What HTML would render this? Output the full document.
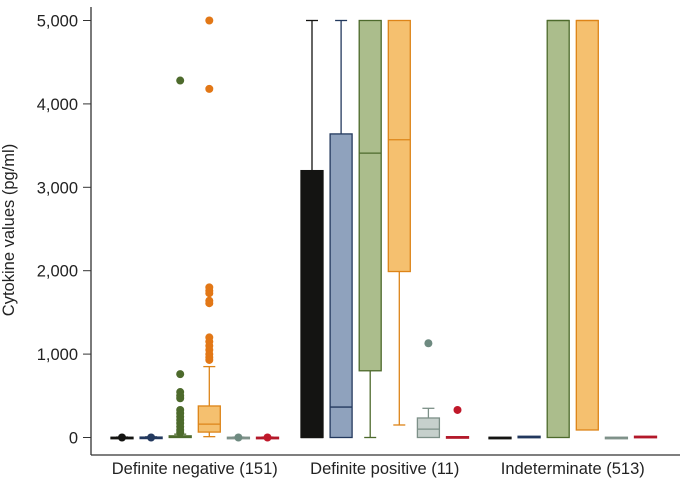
<!DOCTYPE html>
<html><head><meta charset="utf-8"><style>
body{margin:0;background:#fff;}
svg{display:block;font-family:"Liberation Sans",sans-serif;}
</style></head><body>
<svg id="chart" width="685" height="483" viewBox="0 0 685 483">
<g id="axes"></g>
<g id="marks"></g>
<text x="0" y="0" transform="translate(14,230) rotate(-90)" text-anchor="middle" font-size="16.5" fill="#222">Cytokine values (pg/ml)</text>
</svg>
<script>
const groups = ["Definite negative (151)", "Definite positive (11)", "Indeterminate (513)"];
const yTicks = [0, 1000, 2000, 3000, 4000, 5000];
const yTickLabels = ["0", "1,000", "2,000", "3,000", "4,000", "5,000"];
// per series (6 cytokines) per group: [lowWhisker, q1, median, q3, highWhisker]
const seriesBlack = [[0,0,0,3,5],[0,0,0,3200,5000],[0,0,0,3,3]];
const seriesNavy  = [[0,0,0,5,8],[0,0,365,3640,5000],[0,0,5,15,15]];
const seriesGreen = [[0,0,5,20,40],[0,800,3410,5000,5000],[0,0,5000,5000,5000]];
const seriesOrange= [[10,65,160,378,850],[150,1990,3570,5000,5000],[90,90,5000,5000,5000]];
const seriesGray  = [[0,0,0,3,5],[0,0,100,234,350],[0,0,0,3,3]];
const seriesRed   = [[0,0,0,3,5],[0,0,0,10,10],[0,0,5,15,15]];
const outBlack = [[0],[],[]];
const outNavy = [[0],[],[]];
const outGreen = [[4280,760,545,500,470,330,290,250,210,170,130,90,60],[],[]];
const outOrange = [[5000,4180,1800,1760,1730,1640,1610,1200,1150,1100,1050,1000,960,930],[],[]];
const outGray = [[0],[1130],[]];
const outRed = [[0],[330],[]];

const S = "http://www.w3.org/2000/svg";
const axes = document.getElementById('axes'), marks = document.getElementById('marks');
const y = v => 437.5 - v * 0.0834;
const groupX = [122, 312, 500];
const step = 29.1, bw = 22;
function mk(tag, attrs, parent){const e=document.createElementNS(S,tag);for(const k in attrs)e.setAttribute(k,attrs[k]);parent.appendChild(e);return e;}

let l = mk('line',{x1:91,y1:7,x2:91,y2:455,stroke:'#333','stroke-width':1.3},axes);


l = mk('line',{x1:91,y1:455,x2:680,y2:455,stroke:'#333','stroke-width':1.3},axes);


yTicks.forEach((t,i)=>{
  const tk = mk('line',{x1:83,y1:y(t),x2:91,y2:y(t),stroke:'#333','stroke-width':1},axes);
  
  
  const tx = mk('text',{x:78,y:y(t)+6,'text-anchor':'end','font-size':16.5,fill:'#222'},axes);
  tx.textContent = yTickLabels[i];
  
  
});
groups.forEach((g,i)=>{
  const tx = mk('text',{x:groupX[i]+step*2.5,y:474,'text-anchor':'middle','font-size':16.5,fill:'#222'},axes);
  tx.textContent = g;
  
  
});

const series = [
 {d:seriesBlack,o:outBlack,st:'#141412',fill:'#141412',oc:'#141412',n:'black'},
 {d:seriesNavy,o:outNavy,st:'#23395e',fill:'#8fa2bd',oc:'#23395e',n:'navy'},
 {d:seriesGreen,o:outGreen,st:'#4d6a2c',fill:'#abbd8c',oc:'#4d6a2c',n:'green'},
 {d:seriesOrange,o:outOrange,st:'#dd8418',fill:'#f5c06f',oc:'#e27716',n:'orange'},
 {d:seriesGray,o:outGray,st:'#7d9088',fill:'#c6d0cc',oc:'#6e8a80',n:'gray'},
 {d:seriesRed,o:outRed,st:'#b3182a',fill:'#b3182a',oc:'#c0182a',n:'red'}
];
series.forEach((s,si)=>{
  s.d.forEach((b,gi)=>{
    const cx = groupX[gi] + si*step, x0 = cx-bw/2;
    const [lo,q1,md,q3,hi] = b;
    const g = mk('g',{},marks);
    
    
    const sw = 1.3;
    if(hi>q3){mk('line',{x1:cx,y1:y(q3),x2:cx,y2:y(hi),stroke:s.st,'stroke-width':sw},g);
      mk('line',{x1:cx-6,y1:y(hi),x2:cx+6,y2:y(hi),stroke:s.st,'stroke-width':sw},g);}
    if(lo<q1){mk('line',{x1:cx,y1:y(q1),x2:cx,y2:y(lo),stroke:s.st,'stroke-width':sw},g);
      mk('line',{x1:cx-6,y1:y(lo),x2:cx+6,y2:y(lo),stroke:s.st,'stroke-width':sw},g);}
    const h = Math.max(y(q1)-y(q3),1.5);
    mk('rect',{x:x0,y:y(q3),width:bw,height:h,fill:s.fill,stroke:s.st,'stroke-width':sw},g);
    mk('line',{x1:x0,y1:y(md),x2:x0+bw,y2:y(md),stroke:s.st,'stroke-width':sw},g);
    s.o[gi].forEach(v=>{
      const c = mk('circle',{cx:cx,cy:y(v),r:4,fill:s.oc},g);
      
      
    });
  });
});
</script>
</body></html>
